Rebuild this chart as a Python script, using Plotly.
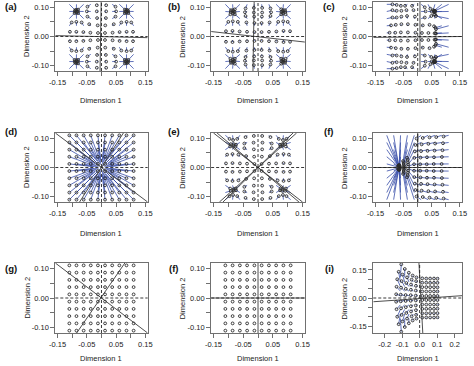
import plotly.graph_objects as go

W, H = 474, 366

# grid of landmark positions (same for every panel)
GRID_X = [-0.11, -0.0856, -0.0611, -0.0367, -0.0122, 0.0122, 0.0367, 0.0611, 0.0856, 0.11]
GRID_Y = [0.11, 0.0856, 0.0611, 0.0367, 0.0122, -0.0122, -0.0367, -0.0611, -0.0856, -0.11]

# displaced positions, hundredths of a unit, rows top -> bottom, cols left -> right
A_X = [[-9.0,-8.6,-8.0,-4.8,-1.6,1.6,4.8,8.0,8.6,9.0],
       [-9.1,-8.6,-8.1,-5.0,-1.6,1.6,5.0,8.1,8.6,9.1],
       [-9.2,-8.6,-8.0,-4.8,-1.5,1.5,4.8,8.0,8.6,9.2],
       [-10.2,-8.6,-6.8,-4.2,-1.3,1.3,4.2,6.8,8.6,10.2],
       [-10.8,-8.6,-6.2,-3.8,-1.2,1.2,3.8,6.2,8.6,10.8],
       [-10.8,-8.6,-6.2,-3.8,-1.2,1.2,3.8,6.2,8.6,10.8],
       [-10.2,-8.6,-6.8,-4.2,-1.3,1.3,4.2,6.8,8.6,10.2],
       [-9.2,-8.6,-8.0,-4.8,-1.5,1.5,4.8,8.0,8.6,9.2],
       [-9.1,-8.6,-8.1,-5.0,-1.6,1.6,5.0,8.1,8.6,9.1],
       [-9.0,-8.6,-8.0,-4.8,-1.6,1.6,4.8,8.0,8.6,9.0]]
A_Y = [[9.0,9.1,9.2,10.2,10.7,10.7,10.2,9.2,9.1,9.0],
       [8.6,8.6,8.6,8.6,8.6,8.6,8.6,8.6,8.6,8.6],
       [8.0,8.1,8.0,6.8,6.3,6.3,6.8,8.0,8.1,8.0],
       [4.8,5.0,4.8,4.2,3.8,3.8,4.2,4.8,5.0,4.8],
       [1.6,1.6,1.5,1.3,1.2,1.2,1.3,1.5,1.6,1.6],
       [-1.6,-1.6,-1.5,-1.3,-1.2,-1.2,-1.3,-1.5,-1.6,-1.6],
       [-4.8,-5.0,-4.8,-4.2,-3.8,-3.8,-4.2,-4.8,-5.0,-4.8],
       [-8.0,-8.1,-8.0,-6.8,-6.3,-6.3,-6.8,-8.0,-8.1,-8.0],
       [-8.6,-8.6,-8.6,-8.6,-8.6,-8.6,-8.6,-8.6,-8.6,-8.6],
       [-9.0,-9.1,-9.2,-10.2,-10.7,-10.7,-10.2,-9.2,-9.1,-9.0]]

B_X = [[-9.1,-8.4,-7.8,-4.2,-1.4,1.4,4.2,7.8,8.4,9.1],
       [-9.2,-8.4,-7.9,-4.4,-1.4,1.4,4.4,7.9,8.4,9.2],
       [-9.3,-8.4,-7.8,-4.2,-1.3,1.3,4.2,7.8,8.4,9.3],
       [-10.0,-8.5,-6.8,-3.9,-1.2,1.2,3.9,6.8,8.5,10.0],
       [-10.8,-8.6,-6.2,-3.7,-1.2,1.2,3.7,6.2,8.6,10.8],
       [-10.8,-8.6,-6.2,-3.7,-1.2,1.2,3.7,6.2,8.6,10.8],
       [-10.0,-8.5,-6.8,-3.9,-1.2,1.2,3.9,6.8,8.5,10.0],
       [-9.3,-8.4,-7.8,-4.2,-1.3,1.3,4.2,7.8,8.4,9.3],
       [-9.2,-8.4,-7.9,-4.4,-1.4,1.4,4.4,7.9,8.4,9.2],
       [-9.1,-8.4,-7.8,-4.2,-1.4,1.4,4.2,7.8,8.4,9.1]]
B_Y = [[9.0,9.0,9.3,9.6,9.8,9.8,9.6,9.3,9.0,9.0],
       [8.4,8.4,8.4,8.3,8.2,8.2,8.3,8.4,8.4,8.4],
       [7.6,7.8,7.6,7.0,6.8,6.8,7.0,7.6,7.8,7.6],
       [5.0,5.2,5.0,4.8,4.6,4.6,4.8,5.0,5.2,5.0],
       [1.8,1.9,1.7,1.6,1.5,1.5,1.6,1.7,1.9,1.8],
       [-1.8,-1.9,-1.7,-1.6,-1.5,-1.5,-1.6,-1.7,-1.9,-1.8],
       [-5.0,-5.2,-5.0,-4.8,-4.6,-4.6,-4.8,-5.0,-5.2,-5.0],
       [-7.6,-7.8,-7.6,-7.0,-6.8,-6.8,-7.0,-7.6,-7.8,-7.6],
       [-8.4,-8.4,-8.4,-8.3,-8.2,-8.2,-8.3,-8.4,-8.4,-8.4],
       [-9.0,-9.0,-9.3,-9.6,-9.8,-9.8,-9.6,-9.3,-9.0,-9.0]]

C_X = [[-9.0,-7.5,-6.0,-4.5,-2.0,2.5,4.5,5.5,5.8,6.2],
       [-9.0,-7.5,-5.8,-4.0,-1.5,2.8,5.0,5.8,6.0,6.2],
       [-9.0,-7.5,-5.8,-3.8,-1.0,2.5,4.8,5.8,6.2,6.5],
       [-9.5,-7.8,-5.8,-3.5,-0.8,1.8,4.2,5.8,6.3,6.5],
       [-10.0,-8.0,-6.0,-3.5,-0.8,1.5,3.8,6.0,6.3,6.5],
       [-10.0,-8.0,-6.0,-3.5,-0.8,1.5,3.8,6.0,6.3,6.5],
       [-9.5,-7.8,-5.8,-3.5,-0.8,1.8,4.2,5.8,6.3,6.5],
       [-9.0,-7.5,-5.8,-3.8,-1.0,2.5,4.8,5.8,6.2,6.5],
       [-9.0,-7.5,-5.8,-4.0,-1.5,2.8,5.0,5.8,6.0,6.2],
       [-9.0,-7.5,-6.0,-4.5,-2.0,2.5,4.5,5.5,5.8,6.2]]
C_Y = [[11.0,10.8,10.5,10.5,10.5,10.0,9.5,9.0,8.8,8.8],
       [9.0,8.8,8.8,9.0,9.0,8.6,8.5,8.5,8.5,8.5],
       [6.5,6.5,6.8,7.0,6.8,6.5,7.0,7.5,7.5,7.0],
       [3.8,4.0,4.2,4.2,4.0,3.8,4.0,3.5,3.0,2.5],
       [1.3,1.3,1.4,1.4,1.3,1.2,1.2,1.1,1.1,1.0],
       [-1.3,-1.3,-1.4,-1.4,-1.3,-1.2,-1.2,-1.1,-1.1,-1.0],
       [-3.8,-4.0,-4.2,-4.2,-4.0,-3.8,-4.0,-3.5,-3.0,-2.5],
       [-6.5,-6.5,-6.8,-7.0,-6.8,-6.5,-7.0,-7.5,-7.5,-7.0],
       [-9.0,-8.8,-8.8,-9.0,-9.0,-8.6,-8.5,-8.5,-8.5,-8.5],
       [-11.0,-10.8,-10.5,-10.5,-10.5,-10.0,-9.5,-9.0,-8.8,-8.8]]

# panel (d): landmarks pulled in towards the centre
D_X = [[-2.6,-2.0,-1.4,-0.8,-0.3,0.3,0.8,1.4,2.0,2.6],
       [-2.8,-2.2,-1.5,-0.9,-0.3,0.3,0.9,1.5,2.2,2.8],
       [-2.9,-2.2,-1.5,-0.9,-0.3,0.3,0.9,1.5,2.2,2.9],
       [-3.0,-2.3,-1.6,-1.0,-0.3,0.3,1.0,1.6,2.3,3.0],
       [-3.0,-2.4,-1.6,-1.0,-0.3,0.3,1.0,1.6,2.4,3.0],
       [-3.0,-2.4,-1.6,-1.0,-0.3,0.3,1.0,1.6,2.4,3.0],
       [-3.0,-2.3,-1.6,-1.0,-0.3,0.3,1.0,1.6,2.3,3.0],
       [-2.9,-2.2,-1.5,-0.9,-0.3,0.3,0.9,1.5,2.2,2.9],
       [-2.8,-2.2,-1.5,-0.9,-0.3,0.3,0.9,1.5,2.2,2.8],
       [-2.6,-2.0,-1.4,-0.8,-0.3,0.3,0.8,1.4,2.0,2.6]]
D_Y = [[2.6,2.8,2.9,3.0,3.0,3.0,3.0,2.9,2.8,2.6],
       [2.0,2.2,2.2,2.3,2.4,2.4,2.3,2.2,2.2,2.0],
       [1.4,1.5,1.5,1.6,1.6,1.6,1.6,1.5,1.5,1.4],
       [0.8,0.9,0.9,1.0,1.0,1.0,1.0,0.9,0.9,0.8],
       [0.3,0.3,0.3,0.3,0.3,0.3,0.3,0.3,0.3,0.3],
       [-0.3,-0.3,-0.3,-0.3,-0.3,-0.3,-0.3,-0.3,-0.3,-0.3],
       [-0.8,-0.9,-0.9,-1.0,-1.0,-1.0,-1.0,-0.9,-0.9,-0.8],
       [-1.4,-1.5,-1.5,-1.6,-1.6,-1.6,-1.6,-1.5,-1.5,-1.4],
       [-2.0,-2.2,-2.2,-2.3,-2.4,-2.4,-2.3,-2.2,-2.2,-2.0],
       [-2.6,-2.8,-2.9,-3.0,-3.0,-3.0,-3.0,-2.9,-2.8,-2.6]]

E_X = [[-9.6,-8.4,-7.0,-4.2,-1.4,1.4,4.2,7.0,8.4,9.6],
       [-9.2,-8.2,-7.4,-4.6,-1.5,1.5,4.6,7.4,8.2,9.2],
       [-9.4,-8.2,-7.6,-4.6,-1.4,1.4,4.6,7.6,8.2,9.4],
       [-10.4,-8.6,-6.6,-4.0,-1.3,1.3,4.0,6.6,8.6,10.4],
       [-10.8,-8.6,-6.1,-3.7,-1.2,1.2,3.7,6.1,8.6,10.8],
       [-10.8,-8.6,-6.1,-3.7,-1.2,1.2,3.7,6.1,8.6,10.8],
       [-10.4,-8.6,-6.6,-4.0,-1.3,1.3,4.0,6.6,8.6,10.4],
       [-9.4,-8.2,-7.6,-4.6,-1.4,1.4,4.6,7.6,8.2,9.4],
       [-9.2,-8.2,-7.4,-4.6,-1.5,1.5,4.6,7.4,8.2,9.2],
       [-9.6,-8.4,-7.0,-4.2,-1.4,1.4,4.2,7.0,8.4,9.6]]
E_Y = [[9.8,9.4,9.8,10.4,10.8,10.8,10.4,9.8,9.4,9.8],
       [8.0,8.0,7.8,8.2,8.5,8.5,8.2,7.8,8.0,8.0],
       [7.2,7.4,7.2,6.6,6.2,6.2,6.6,7.2,7.4,7.2],
       [4.4,4.6,4.4,3.9,3.7,3.7,3.9,4.4,4.6,4.4],
       [1.4,1.5,1.4,1.3,1.2,1.2,1.3,1.4,1.5,1.4],
       [-1.4,-1.5,-1.4,-1.3,-1.2,-1.2,-1.3,-1.4,-1.5,-1.4],
       [-4.4,-4.6,-4.4,-3.9,-3.7,-3.7,-3.9,-4.4,-4.6,-4.4],
       [-7.2,-7.4,-7.2,-6.6,-6.2,-6.2,-6.6,-7.2,-7.4,-7.2],
       [-8.0,-8.0,-7.8,-8.2,-8.5,-8.5,-8.2,-7.8,-8.0,-8.0],
       [-9.8,-9.4,-9.8,-10.4,-10.8,-10.8,-10.4,-9.8,-9.4,-9.8]]

F_X = [[-6.9,-6.8,-6.6,-5.2,-3.8,-0.4,1.8,4.2,6.6,9.2],
       [-6.8,-6.7,-6.5,-5.0,-3.6,-0.8,1.4,3.8,6.2,9.0],
       [-6.8,-6.7,-6.5,-5.0,-3.5,-1.0,1.2,3.5,6.0,8.8],
       [-6.7,-6.6,-6.4,-4.9,-3.4,-1.2,1.0,3.3,5.8,8.6],
       [-6.7,-6.6,-6.4,-4.9,-3.4,-1.3,0.9,3.2,5.7,8.5],
       [-6.7,-6.6,-6.4,-4.9,-3.4,-1.3,0.9,3.2,5.7,8.5],
       [-6.7,-6.6,-6.4,-4.9,-3.4,-1.2,1.0,3.3,5.8,8.6],
       [-6.8,-6.7,-6.5,-5.0,-3.5,-1.0,1.2,3.5,6.0,8.8],
       [-6.8,-6.7,-6.5,-5.0,-3.6,-0.8,1.4,3.8,6.2,9.0],
       [-6.9,-6.8,-6.6,-5.2,-3.8,-0.4,1.8,4.2,6.6,9.2]]
F_Y = [[0.6,0.6,0.9,2.2,3.3,9.9,10.1,10.3,10.4,10.6],
       [0.4,0.5,0.7,1.7,2.6,7.7,7.9,8.1,8.2,8.3],
       [0.3,0.4,0.5,1.2,1.8,5.5,5.6,5.7,5.8,5.9],
       [0.2,0.2,0.3,0.7,1.1,3.3,3.4,3.5,3.5,3.6],
       [0.1,0.1,0.1,0.2,0.4,1.1,1.1,1.1,1.2,1.2],
       [-0.1,-0.1,-0.1,-0.2,-0.4,-1.1,-1.1,-1.1,-1.2,-1.2],
       [-0.2,-0.2,-0.3,-0.7,-1.1,-3.3,-3.4,-3.5,-3.5,-3.6],
       [-0.3,-0.4,-0.5,-1.2,-1.8,-5.5,-5.6,-5.7,-5.8,-5.9],
       [-0.4,-0.5,-0.7,-1.7,-2.6,-7.7,-7.9,-8.1,-8.2,-8.3],
       [-0.6,-0.6,-0.9,-2.2,-3.3,-9.9,-10.1,-10.3,-10.4,-10.6]]

I_X = [[-10.5,-8.5,-6.2,-4.0,-1.8,1.5,3.8,6.0,8.2,10.2],
       [-12.0,-9.8,-7.2,-4.6,-2.0,1.5,3.8,6.0,8.2,10.2],
       [-12.8,-10.3,-7.6,-4.9,-2.1,1.5,3.8,6.0,8.2,10.2],
       [-13.2,-10.6,-7.9,-5.0,-2.2,1.5,3.8,6.0,8.2,10.2],
       [-13.4,-10.8,-8.0,-5.1,-2.2,1.5,3.8,6.0,8.2,10.2],
       [-13.4,-10.8,-8.0,-5.1,-2.2,1.5,3.8,6.0,8.2,10.2],
       [-13.2,-10.6,-7.9,-5.0,-2.2,1.5,3.8,6.0,8.2,10.2],
       [-12.8,-10.3,-7.6,-4.9,-2.1,1.5,3.8,6.0,8.2,10.2],
       [-12.0,-9.8,-7.2,-4.6,-2.0,1.5,3.8,6.0,8.2,10.2],
       [-10.5,-8.5,-6.2,-4.0,-1.8,1.5,3.8,6.0,8.2,10.2]]
I_Y = [[18.0,15.5,13.5,12.0,11.0,10.5,10.4,10.4,10.4,10.3],
       [14.0,12.5,11.0,9.8,9.0,8.2,8.2,8.1,8.1,8.1],
       [10.0,9.0,8.0,7.2,6.5,5.8,5.8,5.8,5.8,5.7],
       [6.0,5.5,4.9,4.4,4.0,3.5,3.5,3.5,3.5,3.5],
       [2.0,1.8,1.6,1.5,1.3,1.1,1.1,1.1,1.1,1.1],
       [-2.0,-1.8,-1.6,-1.5,-1.3,-1.1,-1.1,-1.1,-1.1,-1.1],
       [-6.0,-5.5,-4.9,-4.4,-4.0,-3.5,-3.5,-3.5,-3.5,-3.5],
       [-10.0,-9.0,-8.0,-7.2,-6.5,-5.8,-5.8,-5.8,-5.8,-5.7],
       [-14.0,-12.5,-11.0,-9.8,-9.0,-8.2,-8.2,-8.1,-8.1,-8.1],
       [-18.0,-15.5,-13.5,-12.0,-11.0,-10.5,-10.4,-10.4,-10.4,-10.3]]

# estimated axes drawn as solid lines: (x0, y0, x1, y1)
SOLID_A = [(-0.001, 0.118, -0.005, -0.118), (-0.158, 0.003, 0.158, -0.004)]
SOLID_B = [(-0.013, 0.118, -0.017, -0.118), (-0.158, 0.017, 0.158, -0.019)]
SOLID_C = [(0.008, 0.118, 0.008, -0.118), (-0.158, -0.003, 0.158, 0.0)]
SOLID_D = [(-0.158, 0.118, 0.158, -0.118), (0.075, 0.118, -0.075, -0.118)]
SOLID_E = [(-0.150, 0.118, 0.150, -0.118), (-0.138, 0.118, 0.138, -0.118),
           (0.118, 0.118, -0.118, -0.118), (0.130, 0.118, -0.130, -0.118)]
SOLID_F = [(0.0, 0.118, 0.0, -0.118), (-0.158, 0.0, 0.158, 0.0)]
SOLID_G = [(-0.158, 0.118, 0.158, -0.118), (0.080, 0.118, -0.085, -0.118)]
SOLID_H = [(0.0, 0.118, 0.0, -0.118), (-0.158, 0.0, 0.158, 0.0)]
SOLID_I = [(-0.004, 0.187, 0.018, -0.187), (-0.265, -0.02, 0.243, 0.0125)]

LABELS = ["(a)", "(b)", "(c)", "(d)", "(e)", "(f)", "(g)", "(f)", "(i)"]
# where the circles sit: at the displaced end ("target") or at the landmark ("grid")
MARK_AT = ["target", "target", "target", "grid", "target", "target", "grid", "grid", "target"]

# frame pixel boxes: col x-ranges, row y-ranges
COL_PX = [(50.5, 145), (210, 306), (376, 467)]
ROW_PX = [(2, 71), (133, 202), (263, 333)]
XTITLE_PX = [100, 233, 358]
LAB_X = [5.5, 172, 331]
LAB_Y = [6, 131, 268]

FONT = "Liberation Sans, Arial, Helvetica, sans-serif"
BLUE = "rgba(60,80,170,0.9)"
DOT = "#2a2a2a"

panels = [
    (A_X, A_Y, SOLID_A), (B_X, B_Y, SOLID_B), (C_X, C_Y, SOLID_C),
    (D_X, D_Y, SOLID_D), (E_X, E_Y, SOLID_E), (F_X, F_Y, SOLID_F),
    (None, None, SOLID_G), (None, None, SOLID_H), (I_X, I_Y, SOLID_I),
]

fig = go.Figure()
layout = {}
annotations = []
shapes = []

for k, (tx, ty, solid) in enumerate(panels):
    i = k + 1
    row, col = divmod(k, 3)
    xs = "" if i == 1 else str(i)
    xref, yref = "x" + xs, "y" + xs
    lx, ly, px, py = [], [], [], []
    for r in range(10):
        for c in range(10):
            gx, gy = GRID_X[c], GRID_Y[r]
            if tx is None:
                ex, ey = gx, gy
            else:
                ex, ey = tx[r][c] / 100.0, ty[r][c] / 100.0
                lx += [gx, ex, None]; ly += [gy, ey, None]
            if MARK_AT[k] == "grid":
                px.append(gx); py.append(gy)
            else:
                px.append(ex); py.append(ey)
    if lx:
        fig.add_trace(go.Scatter(x=lx, y=ly, mode="lines", xaxis=xref, yaxis=yref,
                                 line=dict(color=BLUE, width=0.9), hoverinfo="skip",
                                 showlegend=False))
    fig.add_trace(go.Scatter(x=px, y=py, mode="markers", xaxis=xref, yaxis=yref,
                             marker=dict(symbol="circle-open", size=2.8,
                                         color=DOT, line=dict(width=0.9, color=DOT)),
                             showlegend=False, hoverinfo="skip"))
    sx, sy = [], []
    for (x0, y0, x1, y1) in solid:
        sx += [x0, x1, None]; sy += [y0, y1, None]
    fig.add_trace(go.Scatter(x=sx, y=sy, mode="lines", xaxis=xref, yaxis=yref,
                             line=dict(color="#3a3a3a", width=0.9),
                             showlegend=False, hoverinfo="skip"))
    shapes.append(dict(type="line", xref=xref + " domain", yref=yref, x0=0, x1=1, y0=0, y1=0,
                       line=dict(color="#222", width=0.9, dash="3px,2px")))
    if i != 8:
        shapes.append(dict(type="line", xref=xref, yref=yref + " domain", x0=0, x1=0, y0=0, y1=1,
                           line=dict(color="#222", width=0.9, dash="3px,2px")))

    cx0, cx1 = COL_PX[col]
    ry0, ry1 = ROW_PX[row]
    if i == 9:
        xr, yr = [-0.265, 0.243], [-0.187, 0.187]
        xtv = [-0.2, -0.1, 0.0, 0.1, 0.2]; xtt = ["-0.2", "-0.1", "0.0", "0.1", "0.2"]
        ytv = [-0.15, -0.10, -0.05, 0.0, 0.05, 0.10, 0.15]
        ytt = ["-0.15", "", "", "0.00", "", "", "0.15"]
    else:
        xr, yr = [-0.158, 0.158], [-0.118, 0.118]
        xtv = [-0.15, -0.10, -0.05, 0.0, 0.05, 0.10, 0.15]
        xtt = ["-0.15", "", "-0.05", "", "0.05", "", "0.15"]
        ytv = [-0.10, -0.05, 0.0, 0.05, 0.10]
        ytt = ["-0.10", "", "0.00", "", "0.10"]
    axcommon = dict(showgrid=False, zeroline=False, showline=True, mirror=True,
                    linecolor="#707070", linewidth=1, ticks="outside", ticklen=4,
                    tickcolor="#707070", tickwidth=1,
                    tickfont=dict(family=FONT, size=7.5, color="#222"))
    layout["xaxis" + xs] = dict(domain=[cx0 / W, cx1 / W], range=xr, anchor=yref,
                                tickmode="array", tickvals=xtv, ticktext=xtt, **axcommon)
    layout["yaxis" + xs] = dict(domain=[1 - ry1 / H, 1 - ry0 / H], range=yr, anchor=xref,
                                tickmode="array", tickvals=ytv, ticktext=ytt, **axcommon)

    annotations.append(dict(text="Dimension 1", xref="paper", yref="paper",
                            x=(cx0 + cx1) / 2 / W, y=1 - XTITLE_PX[row] / H, showarrow=False,
                            font=dict(family=FONT, size=7.5, color="#222"),
                            xanchor="center", yanchor="middle"))
    annotations.append(dict(text="Dimension 2", xref="paper", yref="paper",
                            x=(cx0 - 29.5) / W, y=1 - (ry0 + ry1) / 2 / H, showarrow=False,
                            textangle=-90, font=dict(family=FONT, size=7.5, color="#222"),
                            xanchor="center", yanchor="middle"))
    annotations.append(dict(text="<b>" + LABELS[k] + "</b>", xref="paper", yref="paper",
                            x=LAB_X[col] / W, y=1 - LAB_Y[row] / H, showarrow=False,
                            font=dict(family=FONT, size=9.5, color="#111"),
                            xanchor="center", yanchor="middle"))

fig.update_layout(width=W, height=H, margin=dict(l=0, r=0, t=0, b=0),
                  paper_bgcolor="white", plot_bgcolor="white",
                  annotations=annotations, shapes=shapes, **layout)
fig.write_html("out.html", config={"displayModeBar": False},
               post_script="document.body.style.margin='0';document.body.style.overflow='hidden';")
